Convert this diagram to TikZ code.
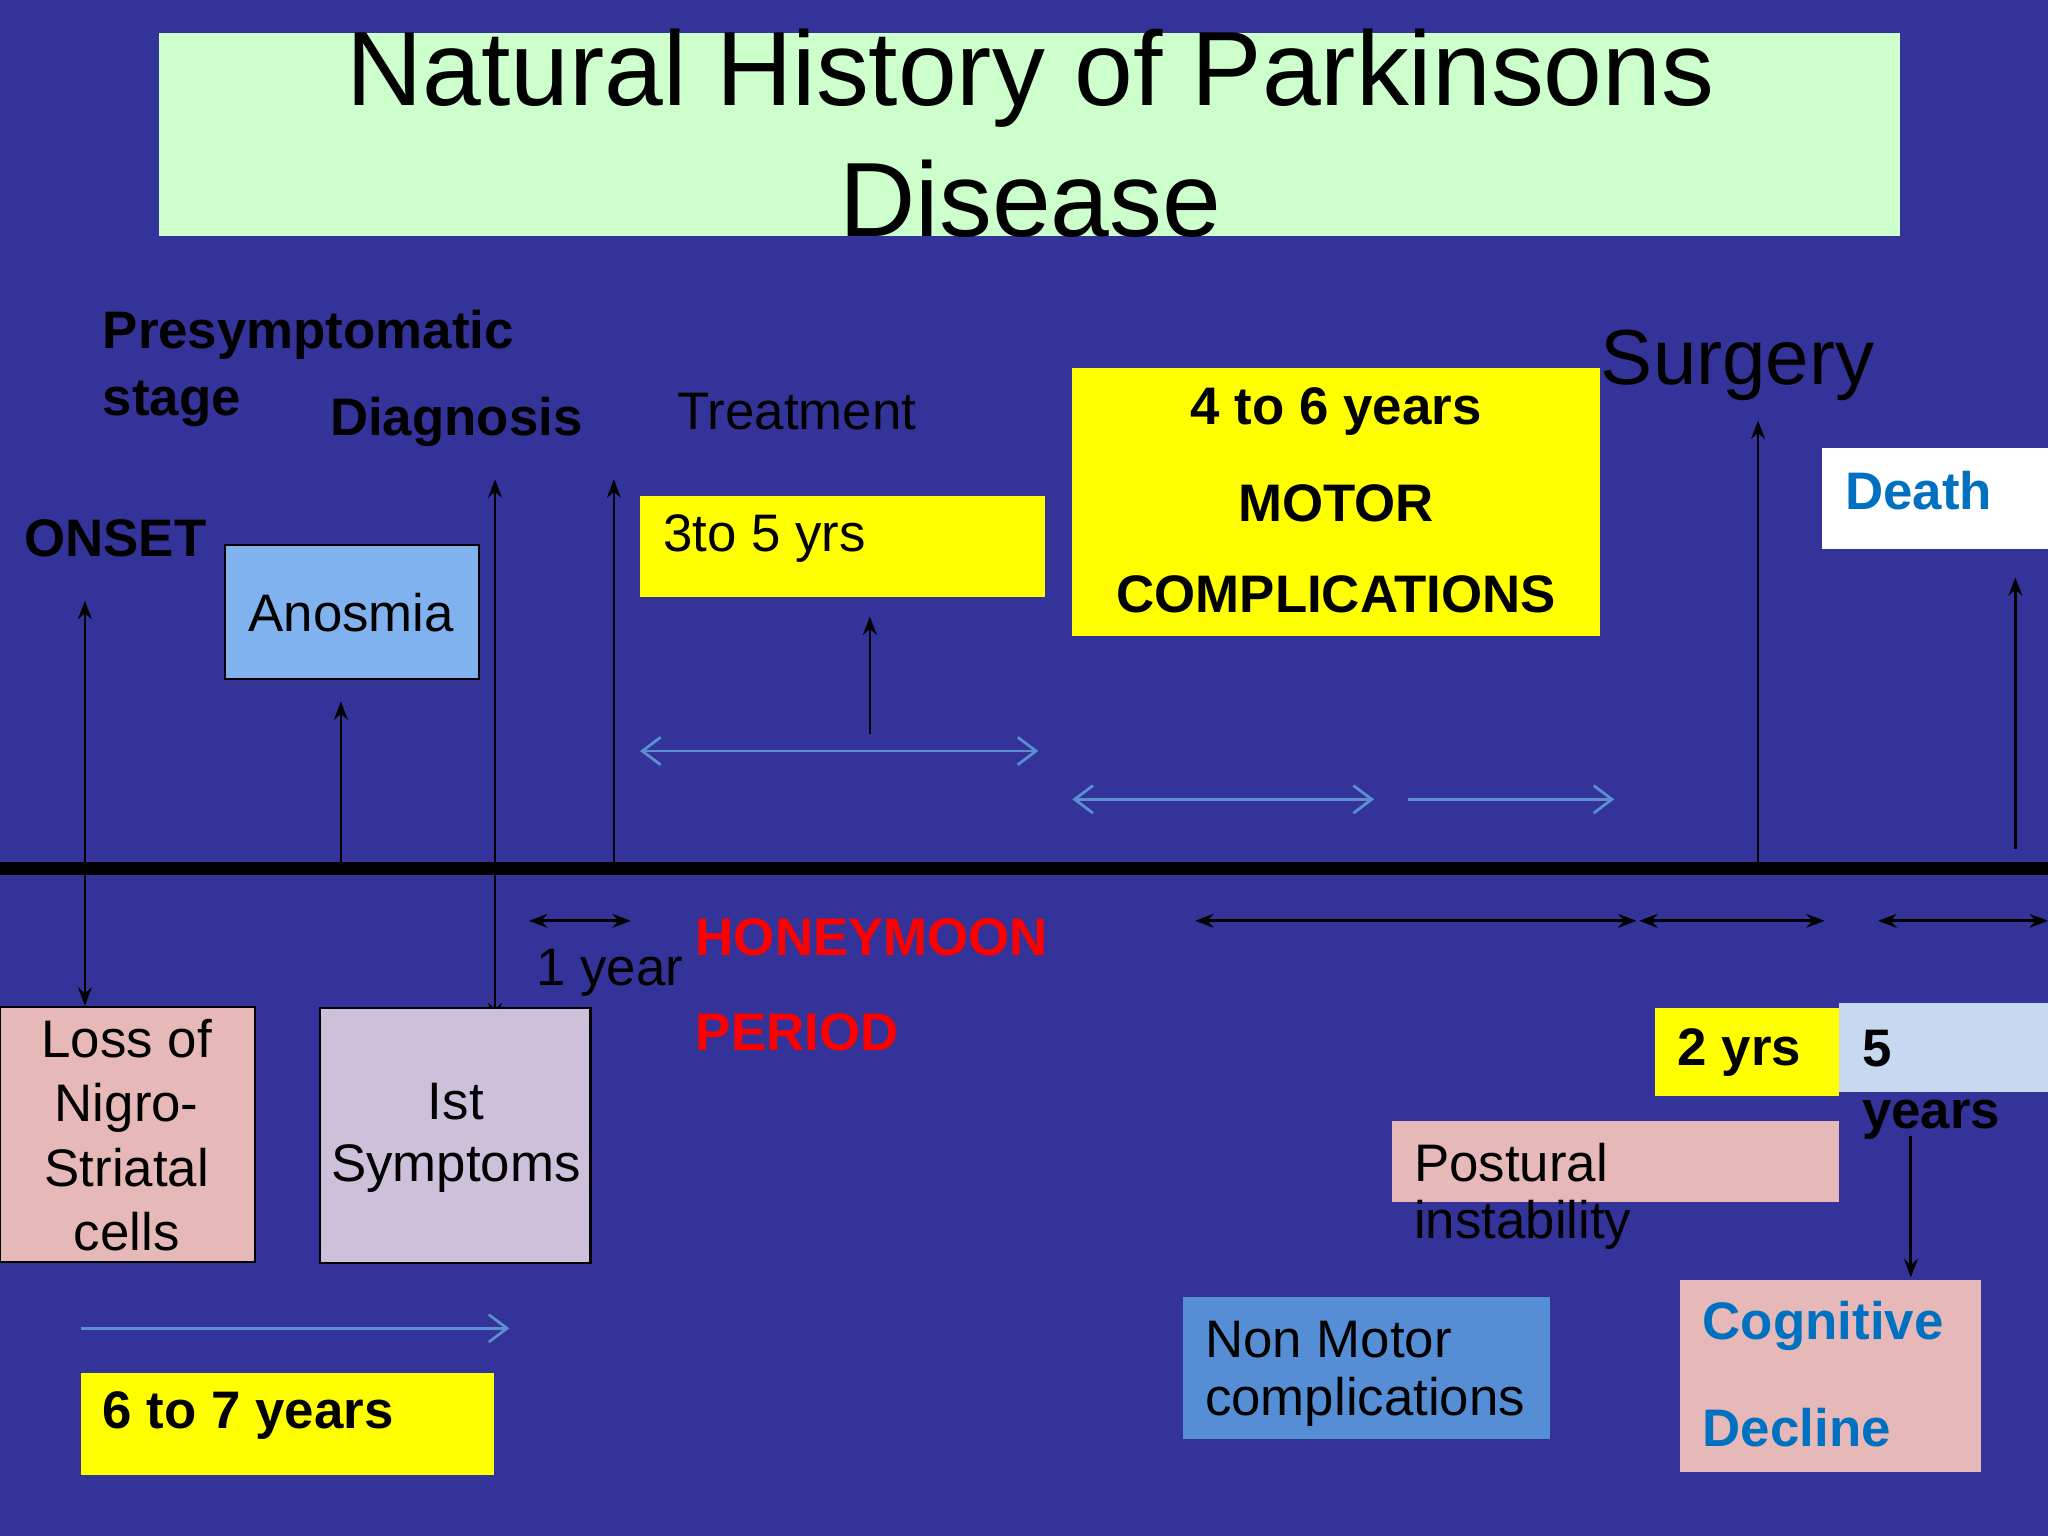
\documentclass[tikz,border=0pt]{standalone}
\usepackage{fontspec}
\setmainfont{Liberation Sans}
\usetikzlibrary{arrows.meta}
\definecolor{bg}{HTML}{333399}
\definecolor{titlebg}{HTML}{CCFFCC}
\definecolor{yel}{HTML}{FFFF00}
\definecolor{anos}{HTML}{7FB2EE}
\definecolor{pinkb}{HTML}{E6B8B7}
\definecolor{lilac}{HTML}{CCC0DA}
\definecolor{lblue}{HTML}{C6D9F1}
\definecolor{nmblue}{HTML}{558ED5}
\definecolor{dblue}{HTML}{0070C0}
\definecolor{arrblue}{HTML}{5B8FD0}
\tikzset{
  lbl/.style={anchor=west,inner sep=0pt,font=\fontsize{11.5}{13}\selectfont},
  blbl/.style={lbl,font=\fontsize{11.5}{13}\selectfont\bfseries},
  blk/.style={line width=0.6pt,black,arrows={-Stealth[length=4pt,width=3pt]}},
  blkd/.style={line width=0.6pt,black,arrows={Stealth[length=4pt,width=3pt]-Stealth[length=4pt,width=3pt]}},
  blu/.style={line width=0.6pt,arrblue,arrows={-Straight Barb[length=4pt,width=6pt]}},
  blud/.style={line width=0.6pt,arrblue,arrows={Straight Barb[length=4pt,width=6pt]-Straight Barb[length=4pt,width=6pt]}},
}
\begin{document}
\begin{tikzpicture}[x=0.01cm,y=-0.01cm]
\fill[bg] (0,0) rectangle (1568,1176);
\useasboundingbox (0,0) rectangle (1568,1176);
% title
\fill[titlebg] (122,25) rectangle (1455,181);
\node[inner sep=0pt,font=\fontsize{23}{27}\selectfont] (t1) at (789,60) {Natural History of Parkinsons};
\node[inner sep=0pt,font=\fontsize{23}{27}\selectfont] (t2) at (789,152) {Disease};
% timeline
\draw[line width=3pt,black] (0,665) -- (1568,665);
% top labels
\node[blbl] (pre1) at (78,256) {Presymptomatic};
\node[blbl] (pre2) at (78,309) {stage};
\node[blbl] (diag) at (252,323) {Diagnosis};
\node[lbl] (treat) at (518,315) {Treatment};
\node[blbl] (onset) at (18,412) {ONSET};
\fill[anos,draw=black,line width=0.5pt] (172,417) rectangle (367,520);
\node[lbl,anchor=center] (anos) at (269,469) {Anosmia};
\fill[yel] (490,380) rectangle (800,457);
\node[lbl] (y35) at (507,412) {3to 5 yrs};
\fill[yel] (821,282) rectangle (1225,487);
\node[blbl,anchor=center] (m1) at (1023,315) {4 to 6 years};
\node[blbl,anchor=center] (m2) at (1023,385) {MOTOR};
\node[blbl,anchor=center] (m3) at (1023,455) {COMPLICATIONS};
\node[lbl,font=\fontsize{17}{20}\selectfont] (surg) at (1225,280) {Surgery};
\fill[white] (1395,343) rectangle (1568,420);
\node[blbl,text=dblue] (death) at (1412,376) {Death};
% vertical arrows
\coordinate (a1t) at (65,460); \coordinate (a1b) at (65,770);
\draw[blkd] (a1t) -- (a1b);
\coordinate (a2t) at (261,537); \coordinate (a2b) at (261,662);
\draw[blk] (a2b) -- (a2t);
\coordinate (a3t) at (379,367); \coordinate (a3b) at (379,782);
\draw[blkd] (a3t) -- (a3b);
\coordinate (a4t) at (470,367); \coordinate (a4b) at (470,662);
\draw[blk] (a4b) -- (a4t);
\coordinate (a5t) at (666,472); \coordinate (a5b) at (666,562);
\draw[blk] (a5b) -- (a5t);
\coordinate (a6t) at (1346,322); \coordinate (a6b) at (1346,662);
\draw[blk] (a6b) -- (a6t);
\coordinate (a7t) at (1543,442); \coordinate (a7b) at (1543,650);
\draw[blk] (a7b) -- (a7t);
% blue horizontal arrows
\coordinate (b1l) at (490,575); \coordinate (b1r) at (795,575);
\draw[blud] (b1l) -- (b1r);
\coordinate (b2l) at (821,612); \coordinate (b2r) at (1052,612);
\draw[blud] (b2l) -- (b2r);
\coordinate (b3l) at (1078,612); \coordinate (b3r) at (1236,612);
\draw[blu] (b3l) -- (b3r);
\coordinate (b4l) at (62,1017); \coordinate (b4r) at (390,1017);
\draw[blu] (b4l) -- (b4r);
% black horizontal arrows
\coordinate (h1l) at (405,705); \coordinate (h1r) at (483,705);
\draw[blkd] (h1l) -- (h1r);
\coordinate (h2l) at (915,705); \coordinate (h2r) at (1253,705);
\draw[blkd] (h2l) -- (h2r);
\coordinate (h3l) at (1255,705); \coordinate (h3r) at (1397,705);
\draw[blkd] (h3l) -- (h3r);
\coordinate (h4l) at (1438,705); \coordinate (h4r) at (1568,705);
\draw[blkd] (h4l) -- (h4r);
% lower labels
\node[lbl] (oneyr) at (410,745) {1 year};
\node[blbl,text=red] (hm1) at (532,718) {HONEYMOON};
\node[blbl,text=red] (hm2) at (532,790) {PERIOD};
\fill[pinkb,draw=black,line width=0.5pt] (0,771) rectangle (195,966);
\node[lbl,anchor=center,align=center,font=\fontsize{11.5}{14}\selectfont] (loss) at (97,869) {Loss of\\Nigro-\\Striatal\\cells};
\fill[lilac,draw=black,line width=0.5pt] (245,772) rectangle (452,967);
\node[lbl,anchor=center,align=center,font=\fontsize{11.5}{13.5}\selectfont] (ist) at (349,871) {Ist\\Symptoms};
\fill[yel] (62,1051) rectangle (378,1129);
\node[blbl] (y67) at (78,1084) {6 to 7 years};
\fill[yel] (1267,772) rectangle (1408,839);
\node[blbl] (y2) at (1284,806) {2 yrs};
\fill[lblue] (1408,768) rectangle (1568,836);
\node[blbl] (f1) at (1425,803) {5};
\node[blbl] (f2) at (1425,857) {years};
\fill[pinkb] (1066,858) rectangle (1408,920);
\node[lbl] (pos1) at (1082,890) {Postural};
\node[lbl] (pos2) at (1082,938) {instability};
\coordinate (a8t) at (1463,870); \coordinate (a8b) at (1463,978);
\draw[blk] (a8t) -- (a8b);
\fill[nmblue] (906,993) rectangle (1187,1102);
\node[lbl] (nm1) at (922,1026) {Non Motor};
\node[lbl] (nm2) at (922,1073) {complications};
\fill[pinkb] (1286,980) rectangle (1517,1127);
\node[blbl,text=dblue] (cg1) at (1303,1015) {Cognitive};
\node[blbl,text=dblue] (cg2) at (1303,1093) {Decline};
\end{tikzpicture}
\end{document}
